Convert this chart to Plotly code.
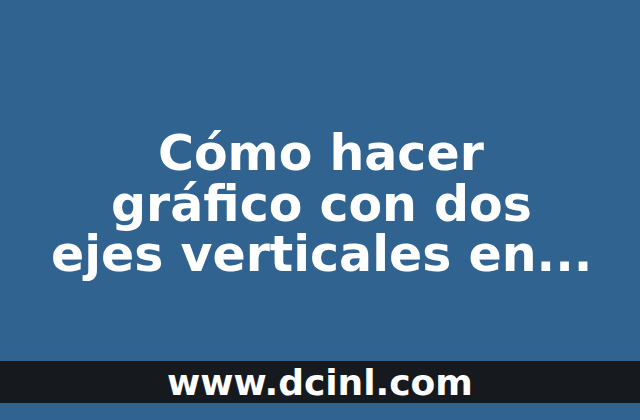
import plotly.graph_objects as go

# text content of the card
title_lines = ["Cómo hacer", "gráfico con dos", "ejes verticales en..."]
title_baselines_px = [170, 221, 272]
site_label = "www.dcinl.com"

W, H = 640, 420

fig = go.Figure()

# dark band behind the site label
fig.add_shape(type='rect', xref='paper', yref='paper',
              x0=0, x1=1, y0=1 - 403 / H, y1=1 - 361 / H,
              fillcolor='rgba(20,20,22,0.93)', line_width=0, layer='below')

for line, base in zip(title_lines, title_baselines_px):
    fig.add_annotation(text=line, xref='paper', yref='paper',
                       x=321 / W, y=1 - (base - 17) / H, xanchor='center', yanchor='middle',
                       showarrow=False,
                       font=dict(family='DejaVu Sans', size=49, color='white', weight='bold'))

fig.add_annotation(text=site_label, xref='paper', yref='paper',
                   x=320 / W, y=1 - 382 / H, xanchor='center', yanchor='middle',
                   showarrow=False,
                   font=dict(family='DejaVu Sans', size=36, color='white', weight='bold'))

fig.update_layout(width=W, height=H,
                  margin=dict(l=0, r=0, t=0, b=0),
                  paper_bgcolor='#30638f', plot_bgcolor='#30638f',
                  xaxis=dict(visible=False), yaxis=dict(visible=False),
                  showlegend=False)

fig.write_html("out.html", config={'displayModeBar': False},
               post_script="document.body.style.margin='0';")
